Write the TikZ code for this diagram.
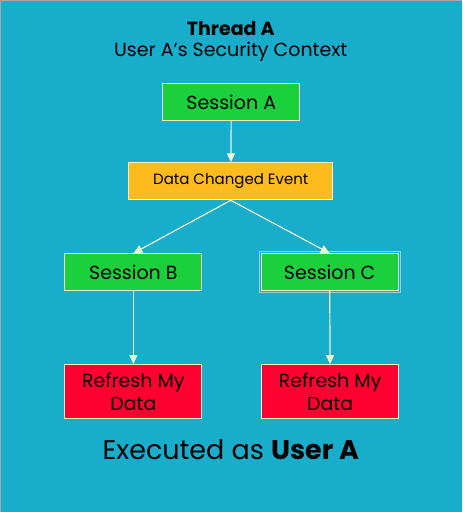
\documentclass[tikz,border=0pt]{standalone}
\usepackage{fontspec}
\setmainfont{Poppins}
\usetikzlibrary{arrows.meta}
\definecolor{bgc}{HTML}{17ADCB}
\definecolor{grn}{HTML}{1CCF3C}
\definecolor{org}{HTML}{FDBB1D}
\definecolor{rd}{HTML}{FF0030}
\definecolor{edge}{HTML}{EEF3D2}
\begin{document}
\begin{tikzpicture}[x=1pt,y=-1pt,
  box/.style={draw=edge, line width=1pt, minimum height=37pt, inner sep=0pt, align=center, font=\fontsize{19}{23}\selectfont},
  sess/.style={box, fill=grn, minimum width=137pt},
  refr/.style={box, fill=rd, minimum width=137pt, minimum height=54pt},
  conn/.style={draw=edge, line width=1.2pt, -{Triangle[length=9pt,width=8pt]}}]
\fill[bgc] (0,0) rectangle (462,512);
\draw[gray!70, line width=1pt] (0.5,512) -- (0.5,0.5) -- (462,0.5);
\useasboundingbox (0,0) rectangle (462,512);
\node[font=\fontsize{19}{23}\selectfont\bfseries] (title) at (231,29) {Thread A};
\node[font=\fontsize{19}{23}\selectfont] (sub) at (231,52) {User A’s Security Context};
\node[sess] (sa) at (231.5,102.5) {Session A};
\node[box, fill=org, minimum width=204pt, font=\fontsize{15}{18}\selectfont] (ev) at (231,181.5) {Data Changed Event};
\node[sess] (sb) at (133.5,272.5) {Session B};
\node[sess] (sc) at (330,272.5) {Session C};
\draw[bgc!50!white, line width=1pt] ([shift={(-1.5,-1.5)}]sc.north west) rectangle ([shift={(1.5,1.5)}]sc.south east);
\node[refr] (rb) at (133.5,392) {Refresh My\\Data};
\node[refr] (rc) at (330.5,392) {Refresh My\\Data};
\node[font=\fontsize{27}{32}\selectfont] (ex) at (231,450) {Executed as \textbf{User A}};
\draw[conn] (sa) -- (ev);
\draw[conn] (ev.south) -- (sb.north);
\draw[conn] (ev.south) -- (sc.north);
\draw[conn] (sb) -- (rb);
\draw[conn] (sc) -- (rc);
\end{tikzpicture}
\end{document}
